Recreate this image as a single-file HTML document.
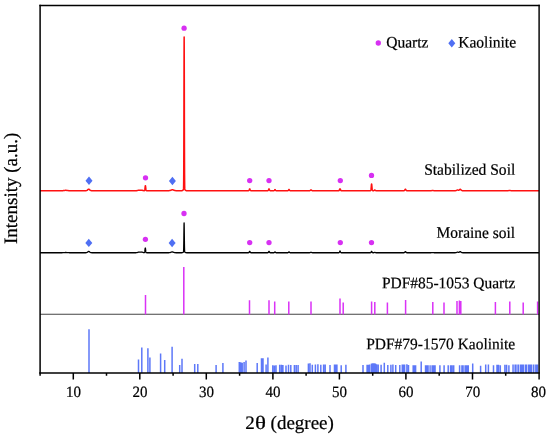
<!DOCTYPE html>
<html lang="en"><head><meta charset="utf-8"><title>XRD patterns</title>
<style>html,body{margin:0;padding:0;background:#fff}svg{display:block}text{font-family:"Liberation Serif",serif;fill:#000;stroke:#000;stroke-width:0.22px;text-rendering:geometricPrecision}</style>
</head><body>
<svg width="550" height="439" viewBox="0 0 550 439">
<rect x="0" y="0" width="550" height="439" fill="#ffffff"/>
<g stroke="#5d78f8" stroke-width="1.5" fill="none">
<path d="M89.0 373V329.2M138.5 373V359.4M141.8 373V347.5M147.9 373V348.3M149.9 373V357.4M160.6 373V353.6M164.7 373V360.0M172.1 373V346.7M179.7 373V365.0M182.0 373V358.7M194.7 373V364.0M197.8 373V364.0M216.1 373V365.1M222.9 373V362.9M239.3 373V362.0M240.7 373V362.2M242.2 373V362.8M244.1 373V362.0M246.0 373V360.6M257.2 373V363.0M261.5 373V358.2M263.0 373V358.2M266.1 373V364.4M267.9 373V357.4M272.8 373V365.2M274.4 373V365.4M276.0 373V365.2M279.7 373V364.8M281.4 373V364.8M282.9 373V365.0M286.0 373V365.4M288.5 373V364.8M290.8 373V365.0M294.4 373V365.0M296.2 373V365.0M298.1 373V365.0M308.4 373V363.4M310.0 373V363.2M312.3 373V364.8M315.4 373V364.5M317.9 373V364.2M320.8 373V364.8M323.6 373V364.6M325.2 373V364.6M330.0 373V365.0M334.5 373V364.6M335.7 373V364.6M336.9 373V364.6M341.2 373V365.2M345.9 373V364.8M363.0 373V364.9M367.1 373V364.7M368.4 373V364.7M369.6 373V364.5M371.5 373V363.6M372.8 373V363.2M374.1 373V363.2M375.4 373V363.6M376.6 373V364.3M378.2 373V364.5M381.1 373V364.7M384.3 373V362.8M387.8 373V364.9M390.9 373V364.7M392.9 373V364.5M395.7 373V365.0M399.8 373V365.0M402.3 373V364.5M403.6 373V364.5M404.6 373V364.5M406.9 373V364.3M408.5 373V364.9M413.2 373V365.3M414.4 373V365.3M415.6 373V365.3M421.2 373V361.5M439.9 373V365.3M444.1 373V365.3M448.2 373V365.3M450.6 373V365.3M452.1 373V365.3M453.7 373V365.3M459.6 373V365.3M472.7 373V363.6M480.6 373V365.7M485.7 373V364.5M488.4 373V364.5M493.5 373V365.3M497.0 373V364.8M498.5 373V364.8M500.3 373V365.3M504.9 373V364.8M506.6 373V364.8M508.9 373V365.3"/>
</g>
<path fill="#5d78f8" d="M424.8 373V365.2H428.8V373ZM429.4 373V365.2H430.8V373ZM431.4 373V365.2H435.8V373ZM461.2 373V365.2H463.8V373ZM464.4 373V365.2H469.0V373ZM512.3 373V364.6H513.8V373ZM514.4 373V364.6H516.7V373ZM517.3 373V364.6H519.2V373ZM519.8 373V364.6H524.3V373ZM524.9 373V364.6H527.2V373ZM527.8 373V364.6H532.0V373ZM532.6 373V364.6H534.5V373ZM535.1 373V364.6H538.3V373Z"/>
<path d="M40 314.2H539" stroke="#444" stroke-width="1.05" fill="none"/>
<path d="M145.5 314.6V295.1M183.8 314.6V266.9M249.5 314.6V300.3M269.0 314.6V300.3M274.7 314.6V301.4M288.8 314.6V301.4M311.0 314.6V301.6M340.0 314.6V298.6M343.2 314.6V302.6M371.6 314.6V301.4M374.8 314.6V302.0M387.4 314.6V302.6M405.6 314.6V300.0M432.8 314.6V302.0M444.0 314.6V302.6M457.0 314.6V301.0M459.4 314.6V300.6M460.8 314.6V301.0M495.4 314.6V302.0M509.8 314.6V301.4M523.2 314.6V302.4M537.6 314.6V301.4" stroke="#da32f6" stroke-width="1.5" fill="none"/>
<path d="M40.00 190.70 41.00 190.70 42.00 190.70 43.00 190.70 44.00 190.70 45.00 190.70 46.00 190.70 47.00 190.70 48.00 190.70 49.00 190.70 50.00 190.70 51.00 190.70 52.00 190.70 53.00 190.70 54.00 190.70 55.00 190.70 56.00 190.70 57.00 190.70 58.00 190.70 59.00 190.70 60.00 190.70 61.00 190.70 61.40 190.70 61.80 190.69 62.00 190.69 62.20 190.68 62.60 190.66 63.00 190.64 63.40 190.60 63.80 190.56 64.00 190.53 64.20 190.50 64.60 190.45 65.00 190.40 65.40 190.36 65.80 190.35 66.00 190.35 66.20 190.36 66.60 190.40 67.00 190.45 67.40 190.50 67.80 190.56 68.00 190.58 68.20 190.60 68.60 190.64 69.00 190.66 69.40 190.68 69.80 190.69 70.00 190.69 70.20 190.70 70.60 190.70 71.00 190.70 72.00 190.70 73.00 190.70 74.00 190.70 75.00 190.70 76.00 190.70 77.00 190.70 78.00 190.70 79.00 190.70 80.00 190.70 81.00 190.70 82.00 190.70 83.00 190.70 84.00 190.70 85.00 190.70 85.50 190.69 85.77 190.68 86.00 190.66 86.03 190.66 86.30 190.62 86.57 190.54 86.83 190.44 87.00 190.35 87.10 190.28 87.37 190.08 87.63 189.85 87.90 189.61 88.00 189.53 88.17 189.40 88.43 189.25 88.70 189.20 88.97 189.25 89.00 189.27 89.23 189.40 89.50 189.61 89.77 189.85 90.00 190.06 90.03 190.08 90.30 190.28 90.57 190.44 90.83 190.54 91.00 190.59 91.10 190.62 91.37 190.66 91.63 190.68 91.90 190.69 92.00 190.69 93.00 190.70 94.00 190.70 95.00 190.70 96.00 190.70 97.00 190.70 98.00 190.70 99.00 190.70 100.00 190.70 101.00 190.70 102.00 190.70 103.00 190.70 104.00 190.70 105.00 190.70 106.00 190.70 107.00 190.70 108.00 190.70 109.00 190.70 110.00 190.70 111.00 190.70 112.00 190.70 113.00 190.70 114.00 190.70 115.00 190.70 116.00 190.70 117.00 190.70 118.00 190.70 119.00 190.70 120.00 190.70 121.00 190.70 122.00 190.70 123.00 190.70 124.00 190.70 125.00 190.70 126.00 190.70 127.00 190.70 128.00 190.70 129.00 190.70 130.00 190.70 131.00 190.70 132.00 190.70 133.00 190.70 134.00 190.70 135.00 190.70 135.60 190.70 135.87 190.69 136.00 190.69 136.13 190.69 136.40 190.67 136.67 190.65 136.93 190.62 137.00 190.61 137.20 190.57 137.47 190.51 137.73 190.45 138.00 190.37 138.27 190.31 138.40 190.28 138.53 190.26 138.67 190.25 138.80 190.24 138.93 190.24 139.00 190.24 139.07 190.25 139.20 190.26 139.33 190.27 139.47 190.29 139.60 190.31 139.73 190.32 139.87 190.33 140.00 190.34 140.13 190.34 140.27 190.34 140.40 190.33 140.53 190.32 140.67 190.30 140.80 190.28 140.93 190.25 141.00 190.24 141.07 190.23 141.20 190.21 141.33 190.20 141.47 190.19 141.60 190.19 141.73 190.20 141.87 190.21 142.00 190.24 142.13 190.26 142.40 190.34 142.67 190.42 142.93 190.49 143.00 190.51 143.20 190.56 143.47 190.61 143.73 190.65 144.00 190.67 144.27 190.67 144.34 190.66 144.43 190.62 144.52 190.55 144.53 190.54 144.61 190.41 144.70 190.17 144.78 189.84 144.80 189.74 144.87 189.32 144.96 188.64 145.00 188.30 145.05 187.85 145.14 187.03 145.22 186.39 145.31 185.88 145.40 185.70 145.49 185.88 145.58 186.39 145.66 187.03 145.75 187.85 145.84 188.64 145.93 189.32 146.00 189.74 146.02 189.84 146.10 190.17 146.19 190.42 146.28 190.56 146.37 190.63 146.46 190.67 147.00 190.70 148.00 190.70 149.00 190.70 150.00 190.70 151.00 190.70 152.00 190.70 153.00 190.70 154.00 190.70 155.00 190.70 156.00 190.70 157.00 190.70 158.00 190.70 159.00 190.70 160.00 190.70 161.00 190.70 162.00 190.70 163.00 190.70 164.00 190.70 165.00 190.70 166.00 190.70 167.00 190.70 167.92 190.69 168.00 190.69 168.29 190.69 168.67 190.67 169.00 190.65 169.04 190.65 169.41 190.61 169.79 190.54 170.00 190.49 170.16 190.45 170.53 190.33 170.91 190.19 171.00 190.15 171.28 190.05 171.65 189.92 172.00 189.84 172.03 189.83 172.40 189.80 172.77 189.83 173.00 189.88 173.15 189.92 173.52 190.05 173.89 190.19 174.00 190.23 174.27 190.33 174.64 190.45 175.00 190.54 175.01 190.54 175.39 190.61 175.76 190.65 176.00 190.67 176.13 190.67 176.51 190.69 176.88 190.69 177.00 190.70 178.00 190.70 179.00 190.70 180.00 190.70 181.00 190.70 181.59 190.69 181.80 190.68 182.00 190.66 182.02 190.65 182.23 190.61 182.44 190.54 182.66 190.42 182.87 190.26 183.00 190.13 183.08 190.05 183.30 189.77 183.51 188.63 183.56 187.52 183.62 184.87 183.67 180.83 183.72 174.24 183.78 161.79 183.83 146.93 183.88 128.04 183.94 101.51 183.99 78.68 184.00 74.32 184.04 58.36 184.10 41.68 184.15 37.00 184.20 41.68 184.26 58.36 184.31 78.68 184.36 101.51 184.42 128.04 184.47 146.93 184.52 161.79 184.58 174.24 184.63 180.83 184.68 184.87 184.74 187.52 184.79 188.63 185.00 189.77 185.22 190.05 185.43 190.26 185.64 190.42 185.86 190.54 186.00 190.59 186.07 190.61 186.28 190.65 186.50 190.68 186.71 190.69 187.00 190.70 188.00 190.70 189.00 190.70 190.00 190.70 191.00 190.70 192.00 190.70 193.00 190.70 194.00 190.70 195.00 190.70 196.00 190.70 197.00 190.70 198.00 190.70 199.00 190.70 200.00 190.70 201.00 190.70 202.00 190.70 203.00 190.70 204.00 190.70 205.00 190.70 206.00 190.70 207.00 190.70 208.00 190.70 209.00 190.70 210.00 190.70 211.00 190.70 212.00 190.70 213.00 190.70 214.00 190.70 215.00 190.70 216.00 190.70 217.00 190.70 218.00 190.70 219.00 190.70 220.00 190.70 221.00 190.70 222.00 190.70 223.00 190.70 224.00 190.70 225.00 190.70 226.00 190.70 227.00 190.70 228.00 190.70 229.00 190.70 230.00 190.70 231.00 190.70 232.00 190.70 233.00 190.70 234.00 190.70 235.00 190.70 236.00 190.70 237.00 190.70 238.00 190.70 239.00 190.70 240.00 190.70 241.00 190.70 242.00 190.70 243.00 190.70 244.00 190.70 245.00 190.70 246.00 190.70 247.00 190.70 248.00 190.70 248.42 190.69 248.53 190.68 248.63 190.65 248.74 190.60 248.85 190.51 248.95 190.39 249.00 190.31 249.06 190.20 249.17 189.95 249.27 189.69 249.38 189.39 249.49 189.13 249.59 188.97 249.70 188.90 249.81 188.97 249.91 189.13 250.00 189.34 250.02 189.39 250.13 189.69 250.23 189.95 250.34 190.20 250.45 190.39 250.55 190.51 250.66 190.60 250.77 190.65 250.87 190.68 250.98 190.69 251.00 190.69 252.00 190.70 253.00 190.70 254.00 190.70 255.00 190.70 256.00 190.70 257.00 190.70 258.00 190.70 259.00 190.70 260.00 190.70 261.00 190.70 262.00 190.70 263.00 190.70 264.00 190.70 265.00 190.70 266.00 190.70 267.00 190.70 267.72 190.69 267.83 190.68 267.93 190.65 268.00 190.62 268.04 190.60 268.15 190.51 268.25 190.39 268.36 190.20 268.47 189.95 268.57 189.69 268.68 189.39 268.79 189.13 268.89 188.97 269.00 188.90 269.11 188.97 269.21 189.13 269.32 189.39 269.43 189.69 269.53 189.95 269.64 190.20 269.75 190.39 269.85 190.51 269.96 190.60 270.00 190.62 270.07 190.65 270.17 190.68 270.28 190.69 271.00 190.70 272.00 190.70 273.00 190.70 273.72 190.69 273.83 190.68 273.93 190.67 274.00 190.65 274.04 190.64 274.15 190.58 274.25 190.51 274.36 190.39 274.47 190.24 274.57 190.08 274.68 189.90 274.79 189.74 274.89 189.64 275.00 189.60 275.11 189.64 275.21 189.74 275.32 189.90 275.43 190.08 275.53 190.24 275.64 190.39 275.75 190.51 275.85 190.58 275.96 190.64 276.00 190.65 276.07 190.67 276.17 190.68 276.28 190.69 277.00 190.70 278.00 190.70 279.00 190.70 280.00 190.70 281.00 190.70 282.00 190.70 283.00 190.70 284.00 190.70 285.00 190.70 286.00 190.70 287.00 190.70 287.72 190.69 287.83 190.68 287.93 190.67 288.00 190.65 288.04 190.63 288.15 190.57 288.25 190.49 288.36 190.37 288.47 190.20 288.57 190.03 288.68 189.83 288.79 189.65 288.89 189.54 289.00 189.50 289.11 189.54 289.21 189.65 289.32 189.83 289.43 190.03 289.53 190.20 289.64 190.37 289.75 190.49 289.85 190.57 289.96 190.63 290.00 190.65 290.07 190.67 290.17 190.68 290.28 190.69 291.00 190.70 292.00 190.70 293.00 190.70 294.00 190.70 295.00 190.70 296.00 190.70 297.00 190.70 298.00 190.70 299.00 190.70 300.00 190.70 301.00 190.70 302.00 190.70 303.00 190.70 304.00 190.70 305.00 190.70 306.00 190.70 307.00 190.70 308.00 190.70 309.00 190.70 309.40 190.70 309.53 190.69 309.67 190.68 309.80 190.66 309.93 190.62 310.00 190.59 310.07 190.56 310.20 190.48 310.33 190.37 310.47 190.24 310.60 190.12 310.73 190.01 310.87 189.93 311.00 189.90 311.13 189.93 311.27 190.01 311.40 190.12 311.53 190.24 311.67 190.37 311.80 190.48 311.93 190.56 312.00 190.59 312.07 190.62 312.20 190.66 312.33 190.68 312.47 190.69 312.60 190.70 313.00 190.70 314.00 190.70 315.00 190.70 316.00 190.70 317.00 190.70 318.00 190.70 319.00 190.70 320.00 190.70 321.00 190.70 322.00 190.70 323.00 190.70 324.00 190.70 325.00 190.70 326.00 190.70 327.00 190.70 328.00 190.70 329.00 190.70 330.00 190.70 331.00 190.70 332.00 190.70 333.00 190.70 334.00 190.70 335.00 190.70 336.00 190.70 337.00 190.70 338.00 190.70 338.72 190.69 338.83 190.67 338.93 190.65 339.00 190.62 339.04 190.59 339.15 190.50 339.25 190.37 339.36 190.17 339.47 189.91 339.57 189.63 339.68 189.32 339.79 189.04 339.89 188.87 340.00 188.80 340.11 188.87 340.21 189.04 340.32 189.32 340.43 189.63 340.53 189.91 340.64 190.17 340.75 190.37 340.85 190.50 340.96 190.59 341.00 190.62 341.07 190.65 341.17 190.67 341.28 190.69 342.00 190.70 343.00 190.70 344.00 190.70 345.00 190.70 346.00 190.70 347.00 190.70 348.00 190.70 349.00 190.70 350.00 190.70 351.00 190.70 352.00 190.70 353.00 190.70 354.00 190.70 355.00 190.70 356.00 190.70 357.00 190.70 358.00 190.70 359.00 190.70 360.00 190.70 361.00 190.70 362.00 190.70 363.00 190.70 364.00 190.70 365.00 190.70 366.00 190.70 367.00 190.70 368.00 190.70 369.00 190.70 370.00 190.70 370.54 190.66 370.63 190.61 370.72 190.51 370.81 190.31 370.90 189.98 370.98 189.54 371.00 189.40 371.07 188.83 371.16 187.90 371.25 186.83 371.34 185.71 371.42 184.84 371.51 184.15 371.60 183.90 371.69 184.15 371.78 184.84 371.86 185.71 371.95 186.83 372.00 187.44 372.04 187.90 372.13 188.83 372.22 189.54 372.30 189.98 372.39 190.31 372.48 190.51 372.57 190.61 372.66 190.66 373.00 190.70 373.36 190.70 373.48 190.69 373.60 190.68 373.72 190.66 373.84 190.63 373.96 190.58 374.00 190.56 374.08 190.51 374.20 190.41 374.32 190.30 374.44 190.19 374.56 190.09 374.68 190.02 374.80 190.00 374.92 190.02 375.00 190.07 375.04 190.09 375.16 190.19 375.28 190.30 375.40 190.41 375.52 190.51 375.64 190.58 375.76 190.63 375.88 190.66 376.00 190.68 376.12 190.69 376.24 190.70 377.00 190.70 378.00 190.70 379.00 190.70 380.00 190.70 381.00 190.70 382.00 190.70 383.00 190.70 384.00 190.70 385.00 190.70 386.00 190.70 387.00 190.70 388.00 190.70 389.00 190.70 390.00 190.70 391.00 190.70 392.00 190.70 393.00 190.70 394.00 190.70 395.00 190.70 396.00 190.70 397.00 190.70 398.00 190.70 399.00 190.70 400.00 190.70 401.00 190.70 402.00 190.70 403.00 190.70 403.80 190.69 403.93 190.68 404.00 190.67 404.07 190.66 404.20 190.62 404.33 190.55 404.47 190.43 404.60 190.28 404.73 190.09 404.87 189.84 405.00 189.61 405.13 189.40 405.27 189.25 405.40 189.20 405.53 189.25 405.67 189.40 405.80 189.61 405.93 189.84 406.00 189.97 406.07 190.09 406.20 190.28 406.33 190.43 406.47 190.55 406.60 190.62 406.73 190.66 406.87 190.68 407.00 190.69 408.00 190.70 409.00 190.70 410.00 190.70 411.00 190.70 412.00 190.70 413.00 190.70 414.00 190.70 415.00 190.70 416.00 190.70 417.00 190.70 418.00 190.70 419.00 190.70 420.00 190.70 421.00 190.70 422.00 190.70 423.00 190.70 424.00 190.70 425.00 190.70 426.00 190.70 427.00 190.70 428.00 190.70 429.00 190.70 430.00 190.70 430.36 190.70 430.55 190.70 430.73 190.69 430.92 190.69 431.00 190.69 431.11 190.68 431.29 190.67 431.48 190.64 431.67 190.62 431.85 190.59 432.00 190.56 432.04 190.55 432.23 190.53 432.41 190.51 432.60 190.50 432.79 190.51 432.97 190.53 433.00 190.53 433.16 190.55 433.35 190.59 433.53 190.62 433.72 190.64 433.91 190.67 434.00 190.67 434.09 190.68 434.28 190.69 434.47 190.69 434.65 190.70 434.84 190.70 435.00 190.70 436.00 190.70 437.00 190.70 438.00 190.70 439.00 190.70 440.00 190.70 441.00 190.70 442.00 190.70 443.00 190.70 444.00 190.70 445.00 190.70 446.00 190.70 447.00 190.70 448.00 190.70 449.00 190.70 450.00 190.70 451.00 190.70 452.00 190.70 453.00 190.70 454.00 190.70 454.94 190.70 455.00 190.69 455.15 190.69 455.37 190.68 455.58 190.66 455.79 190.63 456.00 190.58 456.01 190.58 456.22 190.51 456.43 190.41 456.65 190.30 456.86 190.19 457.00 190.12 457.07 190.09 457.29 190.02 457.50 190.00 457.64 190.00 457.71 190.01 457.85 190.05 457.93 190.07 458.00 190.09 458.07 190.12 458.14 190.14 458.28 190.19 458.35 190.21 458.49 190.23 458.57 190.24 458.71 190.23 458.78 190.22 458.92 190.17 458.99 190.13 459.00 190.12 459.13 190.04 459.21 189.98 459.35 189.86 459.42 189.79 459.56 189.66 459.63 189.59 459.77 189.48 459.85 189.42 459.99 189.34 460.00 189.34 460.06 189.32 460.20 189.30 460.41 189.35 460.63 189.49 460.84 189.68 461.00 189.85 461.05 189.90 461.27 190.13 461.48 190.31 461.69 190.45 461.91 190.56 462.00 190.59 462.12 190.62 462.33 190.66 462.55 190.68 462.76 190.69 463.00 190.70 464.00 190.70 465.00 190.70 466.00 190.70 467.00 190.70 468.00 190.70 469.00 190.70 470.00 190.70 471.00 190.70 472.00 190.70 473.00 190.70 474.00 190.70 475.00 190.70 476.00 190.70 477.00 190.70 478.00 190.70 479.00 190.70 480.00 190.70 481.00 190.70 482.00 190.70 483.00 190.70 484.00 190.70 485.00 190.70 486.00 190.70 487.00 190.70 488.00 190.70 489.00 190.70 490.00 190.70 491.00 190.70 492.00 190.70 493.00 190.70 494.00 190.70 495.00 190.70 496.00 190.70 497.00 190.70 498.00 190.70 499.00 190.70 500.00 190.70 501.00 190.70 502.00 190.70 503.00 190.70 504.00 190.70 505.00 190.70 506.00 190.70 507.00 190.70 507.04 190.70 507.25 190.70 507.47 190.69 507.68 190.69 507.89 190.68 508.00 190.67 508.11 190.66 508.32 190.64 508.53 190.62 508.75 190.59 508.96 190.55 509.00 190.55 509.17 190.53 509.39 190.51 509.60 190.50 509.81 190.51 510.00 190.52 510.03 190.53 510.24 190.55 510.45 190.59 510.67 190.62 510.88 190.64 511.00 190.66 511.09 190.66 511.31 190.68 511.52 190.69 511.73 190.69 511.95 190.70 512.00 190.70 512.16 190.70 513.00 190.70 514.00 190.70 515.00 190.70 516.00 190.70 517.00 190.70 518.00 190.70 519.00 190.70 520.00 190.70 521.00 190.70 522.00 190.70 523.00 190.70 524.00 190.70 525.00 190.70 526.00 190.70 527.00 190.70 528.00 190.70 529.00 190.70 530.00 190.70 531.00 190.70 532.00 190.70 533.00 190.70 534.00 190.70 535.00 190.70 536.00 190.70 537.00 190.70 538.00 190.70 539.00 190.70" stroke="#ff1010" stroke-width="1.5" fill="none" stroke-linejoin="round"/>
<path d="M40.00 252.75 41.00 252.75 42.00 252.75 43.00 252.75 44.00 252.75 45.00 252.75 46.00 252.75 47.00 252.75 48.00 252.75 49.00 252.75 50.00 252.75 51.00 252.75 52.00 252.75 53.00 252.75 54.00 252.75 55.00 252.75 56.00 252.75 57.00 252.75 58.00 252.75 59.00 252.75 60.00 252.75 61.00 252.75 61.40 252.75 61.80 252.74 62.00 252.74 62.20 252.74 62.60 252.72 63.00 252.71 63.40 252.68 63.80 252.65 64.00 252.63 64.20 252.61 64.60 252.57 65.00 252.53 65.40 252.51 65.80 252.50 66.00 252.50 66.20 252.51 66.60 252.53 67.00 252.57 67.40 252.61 67.80 252.65 68.00 252.66 68.20 252.68 68.60 252.71 69.00 252.72 69.40 252.74 69.80 252.74 70.00 252.75 70.20 252.75 70.60 252.75 71.00 252.75 72.00 252.75 73.00 252.75 74.00 252.75 75.00 252.75 76.00 252.75 77.00 252.75 78.00 252.75 79.00 252.75 80.00 252.75 81.00 252.75 82.00 252.75 83.00 252.75 84.00 252.75 85.00 252.75 85.50 252.74 85.77 252.73 86.00 252.72 86.03 252.71 86.30 252.68 86.57 252.62 86.83 252.52 87.00 252.44 87.10 252.39 87.37 252.21 87.63 252.02 87.90 251.81 88.00 251.73 88.17 251.62 88.43 251.50 88.70 251.45 88.97 251.50 89.00 251.51 89.23 251.62 89.50 251.81 89.77 252.02 90.00 252.19 90.03 252.21 90.30 252.39 90.57 252.52 90.83 252.62 91.00 252.66 91.10 252.68 91.37 252.71 91.63 252.73 91.90 252.74 92.00 252.74 93.00 252.75 94.00 252.75 95.00 252.75 96.00 252.75 97.00 252.75 98.00 252.75 99.00 252.75 100.00 252.75 101.00 252.75 102.00 252.75 103.00 252.75 104.00 252.75 105.00 252.75 106.00 252.75 107.00 252.75 108.00 252.75 109.00 252.75 110.00 252.75 111.00 252.75 112.00 252.75 113.00 252.75 114.00 252.75 115.00 252.75 116.00 252.75 117.00 252.75 118.00 252.75 119.00 252.75 120.00 252.75 121.00 252.75 122.00 252.75 123.00 252.75 124.00 252.75 125.00 252.75 126.00 252.75 127.00 252.75 128.00 252.75 129.00 252.75 130.00 252.75 131.00 252.75 132.00 252.75 133.00 252.75 134.00 252.75 135.00 252.75 135.28 252.75 135.57 252.74 135.87 252.73 136.00 252.73 136.16 252.72 136.45 252.69 136.75 252.64 137.00 252.59 137.04 252.58 137.33 252.50 137.63 252.41 137.92 252.31 138.00 252.29 138.08 252.26 138.21 252.22 138.37 252.18 138.51 252.16 138.67 252.13 138.80 252.12 138.96 252.12 139.00 252.12 139.09 252.12 139.25 252.13 139.39 252.14 139.55 252.15 139.68 252.16 139.84 252.17 139.97 252.18 140.00 252.18 140.13 252.17 140.27 252.17 140.43 252.15 140.56 252.14 140.72 252.11 140.85 252.09 141.00 252.07 141.01 252.06 141.15 252.04 141.31 252.03 141.44 252.02 141.60 252.03 141.73 252.04 141.89 252.06 142.00 252.09 142.03 252.09 142.19 252.14 142.32 252.18 142.48 252.24 142.77 252.35 143.00 252.44 143.07 252.46 143.36 252.56 143.65 252.63 143.95 252.68 144.00 252.68 144.24 252.68 144.33 252.66 144.42 252.59 144.51 252.46 144.53 252.42 144.60 252.24 144.68 251.93 144.77 251.44 144.83 251.04 144.86 250.81 144.95 250.07 145.00 249.63 145.04 249.30 145.12 248.70 145.21 248.22 145.30 248.05 145.39 248.22 145.48 248.70 145.56 249.30 145.65 250.07 145.74 250.82 145.83 251.46 145.92 251.95 146.00 252.25 146.09 252.48 146.18 252.62 146.27 252.69 146.36 252.72 147.00 252.75 148.00 252.75 149.00 252.75 150.00 252.75 151.00 252.75 152.00 252.75 153.00 252.75 154.00 252.75 155.00 252.75 156.00 252.75 157.00 252.75 158.00 252.75 159.00 252.75 160.00 252.75 161.00 252.75 162.00 252.75 163.00 252.75 164.00 252.75 165.00 252.75 166.00 252.75 167.00 252.75 168.00 252.75 168.04 252.75 168.39 252.74 168.73 252.73 169.00 252.71 169.08 252.71 169.43 252.67 169.77 252.61 170.00 252.56 170.12 252.53 170.47 252.42 170.81 252.30 171.00 252.23 171.16 252.17 171.51 252.06 171.85 251.98 172.00 251.96 172.20 251.95 172.55 251.98 172.89 252.06 173.00 252.09 173.24 252.17 173.59 252.30 173.93 252.42 174.00 252.44 174.28 252.53 174.63 252.61 174.97 252.67 175.00 252.67 175.32 252.71 175.67 252.73 176.00 252.74 176.01 252.74 176.36 252.75 177.00 252.75 178.00 252.75 179.00 252.75 180.00 252.75 181.00 252.75 181.54 252.74 181.75 252.74 181.97 252.72 182.00 252.72 182.18 252.69 182.39 252.65 182.61 252.57 182.82 252.47 183.00 252.36 183.03 252.34 183.25 252.18 183.46 251.85 183.51 251.62 183.57 251.08 183.62 250.29 183.67 249.02 183.73 246.63 183.78 243.79 183.83 240.19 183.89 235.13 183.94 230.78 183.99 226.92 184.00 226.25 184.05 223.74 184.10 222.85 184.15 223.74 184.21 226.92 184.26 230.78 184.31 235.13 184.37 240.19 184.42 243.79 184.47 246.63 184.53 249.02 184.58 250.29 184.63 251.08 184.69 251.62 184.74 251.85 184.95 252.18 185.00 252.22 185.17 252.34 185.38 252.47 185.59 252.57 185.81 252.65 186.00 252.69 186.02 252.69 186.23 252.72 186.45 252.74 186.66 252.74 187.00 252.75 188.00 252.75 189.00 252.75 190.00 252.75 191.00 252.75 192.00 252.75 193.00 252.75 194.00 252.75 195.00 252.75 196.00 252.75 197.00 252.75 198.00 252.75 199.00 252.75 200.00 252.75 201.00 252.75 202.00 252.75 203.00 252.75 204.00 252.75 205.00 252.75 206.00 252.75 207.00 252.75 208.00 252.75 209.00 252.75 210.00 252.75 211.00 252.75 212.00 252.75 213.00 252.75 214.00 252.75 215.00 252.75 216.00 252.75 217.00 252.75 218.00 252.75 219.00 252.75 220.00 252.75 221.00 252.75 222.00 252.75 223.00 252.75 224.00 252.75 225.00 252.75 226.00 252.75 227.00 252.75 228.00 252.75 229.00 252.75 230.00 252.75 231.00 252.75 232.00 252.75 233.00 252.75 234.00 252.75 235.00 252.75 236.00 252.75 237.00 252.75 238.00 252.75 239.00 252.75 240.00 252.75 241.00 252.75 242.00 252.75 243.00 252.75 244.00 252.75 245.00 252.75 246.00 252.75 247.00 252.75 248.00 252.75 248.42 252.74 248.53 252.73 248.63 252.71 248.74 252.67 248.85 252.60 248.95 252.51 249.00 252.45 249.06 252.36 249.17 252.17 249.27 251.96 249.38 251.73 249.49 251.53 249.59 251.40 249.70 251.35 249.81 251.40 249.91 251.53 250.00 251.69 250.02 251.73 250.13 251.96 250.23 252.17 250.34 252.36 250.45 252.51 250.55 252.60 250.66 252.67 250.77 252.71 250.87 252.73 250.98 252.74 251.00 252.74 252.00 252.75 253.00 252.75 254.00 252.75 255.00 252.75 256.00 252.75 257.00 252.75 258.00 252.75 259.00 252.75 260.00 252.75 261.00 252.75 262.00 252.75 263.00 252.75 264.00 252.75 265.00 252.75 266.00 252.75 267.00 252.75 267.72 252.74 267.83 252.73 267.93 252.71 268.00 252.69 268.04 252.67 268.15 252.60 268.25 252.51 268.36 252.36 268.47 252.17 268.57 251.96 268.68 251.73 268.79 251.53 268.89 251.40 269.00 251.35 269.11 251.40 269.21 251.53 269.32 251.73 269.43 251.96 269.53 252.17 269.64 252.36 269.75 252.51 269.85 252.60 269.96 252.67 270.00 252.69 270.07 252.71 270.17 252.73 270.28 252.74 271.00 252.75 272.00 252.75 273.00 252.75 273.72 252.75 273.83 252.74 273.93 252.73 274.00 252.71 274.04 252.71 274.15 252.67 274.25 252.61 274.36 252.53 274.47 252.42 274.57 252.30 274.68 252.17 274.79 252.05 274.89 251.98 275.00 251.95 275.11 251.98 275.21 252.05 275.32 252.17 275.43 252.30 275.53 252.42 275.64 252.53 275.75 252.61 275.85 252.67 275.96 252.71 276.00 252.71 276.07 252.73 276.17 252.74 276.28 252.75 277.00 252.75 278.00 252.75 279.00 252.75 280.00 252.75 281.00 252.75 282.00 252.75 283.00 252.75 284.00 252.75 285.00 252.75 286.00 252.75 287.00 252.75 287.72 252.74 287.83 252.74 287.93 252.72 288.00 252.71 288.04 252.70 288.15 252.66 288.25 252.59 288.36 252.50 288.47 252.38 288.57 252.24 288.68 252.10 288.79 251.97 288.89 251.88 289.00 251.85 289.11 251.88 289.21 251.97 289.32 252.10 289.43 252.24 289.53 252.38 289.64 252.50 289.75 252.59 289.85 252.66 289.96 252.70 290.00 252.71 290.07 252.72 290.17 252.74 290.28 252.74 291.00 252.75 292.00 252.75 293.00 252.75 294.00 252.75 295.00 252.75 296.00 252.75 297.00 252.75 298.00 252.75 299.00 252.75 300.00 252.75 301.00 252.75 302.00 252.75 303.00 252.75 304.00 252.75 305.00 252.75 306.00 252.75 307.00 252.75 308.00 252.75 309.00 252.75 309.40 252.75 309.53 252.74 309.67 252.74 309.80 252.72 309.93 252.70 310.00 252.68 310.07 252.66 310.20 252.61 310.33 252.55 310.47 252.46 310.60 252.39 310.73 252.32 310.87 252.27 311.00 252.25 311.13 252.27 311.27 252.32 311.40 252.39 311.53 252.46 311.67 252.55 311.80 252.61 311.93 252.66 312.00 252.68 312.07 252.70 312.20 252.72 312.33 252.74 312.47 252.74 312.60 252.75 313.00 252.75 314.00 252.75 315.00 252.75 316.00 252.75 317.00 252.75 318.00 252.75 319.00 252.75 320.00 252.75 321.00 252.75 322.00 252.75 323.00 252.75 324.00 252.75 325.00 252.75 326.00 252.75 327.00 252.75 328.00 252.75 329.00 252.75 330.00 252.75 331.00 252.75 332.00 252.75 333.00 252.75 334.00 252.75 335.00 252.75 336.00 252.75 337.00 252.75 338.00 252.75 338.72 252.74 338.83 252.73 338.93 252.70 339.00 252.67 339.04 252.65 339.15 252.56 339.25 252.44 339.36 252.25 339.47 252.00 339.57 251.74 339.68 251.44 339.79 251.18 339.89 251.02 340.00 250.95 340.11 251.02 340.21 251.18 340.32 251.44 340.43 251.74 340.53 252.00 340.64 252.25 340.75 252.44 340.85 252.56 340.96 252.65 341.00 252.67 341.07 252.70 341.17 252.73 341.28 252.74 342.00 252.75 343.00 252.75 344.00 252.75 345.00 252.75 346.00 252.75 347.00 252.75 348.00 252.75 349.00 252.75 350.00 252.75 351.00 252.75 352.00 252.75 353.00 252.75 354.00 252.75 355.00 252.75 356.00 252.75 357.00 252.75 358.00 252.75 359.00 252.75 360.00 252.75 361.00 252.75 362.00 252.75 363.00 252.75 364.00 252.75 365.00 252.75 366.00 252.75 367.00 252.75 368.00 252.75 369.00 252.75 370.00 252.75 370.32 252.74 370.43 252.73 370.53 252.71 370.64 252.67 370.75 252.60 370.85 252.51 370.96 252.36 371.00 252.30 371.07 252.17 371.17 251.96 371.28 251.73 371.39 251.53 371.49 251.40 371.60 251.35 371.71 251.40 371.81 251.53 371.92 251.73 372.00 251.90 372.03 251.96 372.13 252.17 372.24 252.36 372.35 252.51 372.45 252.60 372.56 252.67 372.67 252.71 372.77 252.73 372.88 252.74 373.00 252.75 373.36 252.75 373.48 252.74 373.60 252.74 373.72 252.73 373.84 252.71 373.96 252.68 374.00 252.67 374.08 252.64 374.20 252.59 374.32 252.52 374.44 252.46 374.56 252.40 374.68 252.36 374.80 252.35 374.92 252.36 375.00 252.39 375.04 252.40 375.16 252.46 375.28 252.52 375.40 252.59 375.52 252.64 375.64 252.68 375.76 252.71 375.88 252.73 376.00 252.74 376.12 252.74 376.24 252.75 377.00 252.75 378.00 252.75 379.00 252.75 380.00 252.75 381.00 252.75 382.00 252.75 383.00 252.75 384.00 252.75 385.00 252.75 386.00 252.75 387.00 252.75 388.00 252.75 389.00 252.75 390.00 252.75 391.00 252.75 392.00 252.75 393.00 252.75 394.00 252.75 395.00 252.75 396.00 252.75 397.00 252.75 398.00 252.75 399.00 252.75 400.00 252.75 401.00 252.75 402.00 252.75 403.00 252.75 403.80 252.74 403.93 252.74 404.00 252.73 404.07 252.72 404.20 252.69 404.33 252.64 404.47 252.55 404.60 252.44 404.73 252.30 404.87 252.12 405.00 251.95 405.13 251.80 405.27 251.69 405.40 251.65 405.53 251.69 405.67 251.80 405.80 251.95 405.93 252.12 406.00 252.21 406.07 252.30 406.20 252.44 406.33 252.55 406.47 252.64 406.60 252.69 406.73 252.72 406.87 252.74 407.00 252.74 408.00 252.75 409.00 252.75 410.00 252.75 411.00 252.75 412.00 252.75 413.00 252.75 414.00 252.75 415.00 252.75 416.00 252.75 417.00 252.75 418.00 252.75 419.00 252.75 420.00 252.75 421.00 252.75 422.00 252.75 423.00 252.75 424.00 252.75 425.00 252.75 426.00 252.75 427.00 252.75 428.00 252.75 429.00 252.75 430.00 252.75 430.36 252.75 430.55 252.75 430.73 252.75 430.92 252.74 431.00 252.74 431.11 252.73 431.29 252.72 431.48 252.71 431.67 252.69 431.85 252.67 432.00 252.65 432.04 252.64 432.23 252.62 432.41 252.61 432.60 252.60 432.79 252.61 432.97 252.62 433.00 252.62 433.16 252.64 433.35 252.67 433.53 252.69 433.72 252.71 433.91 252.72 434.00 252.73 434.09 252.73 434.28 252.74 434.47 252.75 434.65 252.75 434.84 252.75 435.00 252.75 436.00 252.75 437.00 252.75 438.00 252.75 439.00 252.75 440.00 252.75 441.00 252.75 442.00 252.75 443.00 252.75 444.00 252.75 445.00 252.75 446.00 252.75 447.00 252.75 448.00 252.75 449.00 252.75 450.00 252.75 451.00 252.75 452.00 252.75 453.00 252.75 454.00 252.75 454.94 252.75 455.00 252.75 455.15 252.74 455.37 252.73 455.58 252.72 455.79 252.69 456.00 252.65 456.01 252.64 456.22 252.58 456.43 252.50 456.65 252.41 456.86 252.31 457.00 252.26 457.07 252.23 457.29 252.17 457.50 252.15 457.64 252.15 457.71 252.16 457.85 252.19 457.93 252.21 458.00 252.23 458.07 252.25 458.14 252.27 458.28 252.32 458.35 252.33 458.49 252.36 458.57 252.37 458.71 252.36 458.78 252.36 458.92 252.32 458.99 252.29 459.00 252.29 459.13 252.23 459.21 252.18 459.35 252.08 459.42 252.03 459.56 251.93 459.63 251.88 459.77 251.79 459.85 251.74 459.99 251.68 460.00 251.68 460.06 251.66 460.20 251.65 460.41 251.69 460.63 251.80 460.84 251.95 461.00 252.08 461.05 252.12 461.27 252.30 461.48 252.44 461.69 252.56 461.91 252.64 462.00 252.66 462.12 252.69 462.33 252.72 462.55 252.74 462.76 252.74 463.00 252.75 464.00 252.75 465.00 252.75 466.00 252.75 467.00 252.75 468.00 252.75 469.00 252.75 470.00 252.75 471.00 252.75 472.00 252.75 473.00 252.75 474.00 252.75 475.00 252.75 476.00 252.75 477.00 252.75 478.00 252.75 479.00 252.75 480.00 252.75 481.00 252.75 482.00 252.75 483.00 252.75 484.00 252.75 485.00 252.75 486.00 252.75 487.00 252.75 488.00 252.75 489.00 252.75 490.00 252.75 491.00 252.75 492.00 252.75 493.00 252.75 494.00 252.75 495.00 252.75 496.00 252.75 497.00 252.75 498.00 252.75 499.00 252.75 500.00 252.75 501.00 252.75 502.00 252.75 503.00 252.75 504.00 252.75 505.00 252.75 506.00 252.75 507.00 252.75 508.00 252.75 509.00 252.75 510.00 252.75 511.00 252.75 512.00 252.75 513.00 252.75 514.00 252.75 515.00 252.75 516.00 252.75 517.00 252.75 518.00 252.75 519.00 252.75 520.00 252.75 521.00 252.75 522.00 252.75 523.00 252.75 524.00 252.75 525.00 252.75 526.00 252.75 527.00 252.75 528.00 252.75 529.00 252.75 530.00 252.75 531.00 252.75 532.00 252.75 533.00 252.75 534.00 252.75 535.00 252.75 536.00 252.75 537.00 252.75 538.00 252.75 539.00 252.75" stroke="#000" stroke-width="1.3" fill="none" stroke-linejoin="round"/>
<g fill="#d730f2">
<circle cx="145.5" cy="177.8" r="2.65"/>
<circle cx="184.1" cy="28.2" r="2.65"/>
<circle cx="249.7" cy="180.6" r="2.65"/>
<circle cx="269.0" cy="180.6" r="2.65"/>
<circle cx="340.3" cy="180.6" r="2.65"/>
<circle cx="371.5" cy="175.4" r="2.65"/>
<circle cx="145.4" cy="239.3" r="2.65"/>
<circle cx="184.0" cy="213.5" r="2.65"/>
<circle cx="249.7" cy="242.6" r="2.65"/>
<circle cx="269.0" cy="242.6" r="2.65"/>
<circle cx="340.3" cy="242.6" r="2.65"/>
<circle cx="371.5" cy="242.6" r="2.65"/>
<circle cx="378.3" cy="43.0" r="2.65"/>
</g>
<g fill="#4f6ff3">
<path d="M89.0 176.6L92.5 180.8L89.0 185.0L85.5 180.8Z"/>
<path d="M172.4 176.8L175.9 181.0L172.4 185.2L168.9 181.0Z"/>
<path d="M88.8 238.7L92.3 242.9L88.8 247.1L85.3 242.9Z"/>
<path d="M172.1 238.8L175.6 243.0L172.1 247.2L168.6 243.0Z"/>
<path d="M451.8 39.0L455.3 43.2L451.8 47.4L448.3 43.2Z"/>
</g>
<g stroke="#000" fill="none">
<path d="M39.4 5.5H539.8" stroke-width="1.5"/>
<path d="M40.1 4.8V375.8" stroke-width="1.5"/>
<path d="M539.1 4.8V379.6" stroke-width="1.45"/>
<path d="M39.2 373H539.8" stroke-width="1.5"/>
<path d="M73.3 373V379.6M139.8 373V379.6M206.3 373V379.6M272.9 373V379.6M339.4 373V379.6M405.9 373V379.6M472.5 373V379.6" stroke-width="1.5"/>
<path d="M106.5 373V375.8M173.1 373V375.8M239.6 373V375.8M306.1 373V375.8M372.7 373V375.8M439.2 373V375.8M505.7 373V375.8" stroke-width="1.5"/>
</g>
<text transform="translate(73.5,397.2) scale(0.955,1)" font-size="15.7" text-anchor="middle">10</text>
<text transform="translate(140.0,397.2) scale(0.955,1)" font-size="15.7" text-anchor="middle">20</text>
<text transform="translate(206.5,397.2) scale(0.955,1)" font-size="15.7" text-anchor="middle">30</text>
<text transform="translate(273.1,397.2) scale(0.955,1)" font-size="15.7" text-anchor="middle">40</text>
<text transform="translate(339.6,397.2) scale(0.955,1)" font-size="15.7" text-anchor="middle">50</text>
<text transform="translate(406.1,397.2) scale(0.955,1)" font-size="15.7" text-anchor="middle">60</text>
<text transform="translate(472.7,397.2) scale(0.955,1)" font-size="15.7" text-anchor="middle">70</text>
<text transform="translate(538.6,397.2) scale(0.955,1)" font-size="15.7" text-anchor="middle">80</text>
<text x="245.2" y="428.5" font-size="19">2</text>
<text transform="translate(254.9,428.5) scale(1.2,1)" font-size="19">θ</text>
<text x="270.6" y="428.5" font-size="19">(degree)</text>
<text transform="translate(16.6,188.4) rotate(-90)" font-size="19" text-anchor="middle">Intensity (a.u.)</text>
<text transform="translate(386.2,47.4) rotate(0.03) scale(0.972,1)" font-size="16" text-anchor="start">Quartz</text>
<text transform="translate(458.2,47.4) rotate(0.03) scale(0.972,1)" font-size="16" text-anchor="start">Kaolinite</text>
<text transform="translate(515.3,174.8) rotate(0.03) scale(0.972,1)" font-size="16" text-anchor="end">Stabilized Soil</text>
<text transform="translate(515.1,237.9) rotate(0.03) scale(0.965,1)" font-size="16" text-anchor="end">Moraine soil</text>
<text transform="translate(515.4,288.2) rotate(0.03) scale(0.966,1)" font-size="16" text-anchor="end">PDF#85-1053 Quartz</text>
<text transform="translate(515.2,349.3) rotate(0.03) scale(0.966,1)" font-size="16" text-anchor="end">PDF#79-1570 Kaolinite</text>
</svg>
</body></html>
